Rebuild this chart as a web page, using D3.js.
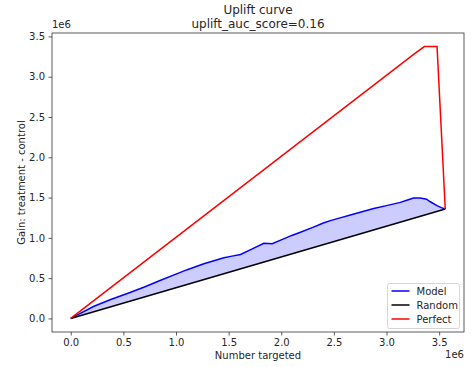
<!DOCTYPE html>
<html>
<head>
<meta charset="utf-8">
<script src="https://cdn.jsdelivr.net/npm/d3@7"></script>
<style>
  body { margin: 0; background: #fff; }
  text { font-family: "DejaVu Sans", sans-serif; fill: #262626; }
</style>
</head>
<body>
<script>
var width = 474, height = 367;

// data, values in units of 1e6
var modelX = [0, 0.221, 0.38, 0.538, 0.70, 0.854, 1.00, 1.107, 1.265, 1.455, 1.52, 1.613, 1.72, 1.834, 1.914, 2.00, 2.10, 2.182, 2.30, 2.40, 2.467, 2.55, 2.657, 2.75, 2.878, 3.00, 3.131, 3.20, 3.257, 3.321, 3.38, 3.416, 3.479, 3.52, 3.558];
var modelY = [0, 0.151, 0.235, 0.309, 0.390, 0.473, 0.550, 0.605, 0.679, 0.753, 0.770, 0.794, 0.860, 0.933, 0.926, 0.975, 1.030, 1.069, 1.130, 1.185, 1.214, 1.245, 1.284, 1.318, 1.365, 1.400, 1.440, 1.470, 1.494, 1.494, 1.480, 1.448, 1.399, 1.375, 1.358];
var randomX = [0, 3.558];
var randomY = [0, 1.358];
var perfectX = [0, 3.27, 3.36, 3.48, 3.558];
var perfectY = [0, 3.29, 3.374, 3.374, 1.358];
var xTicks = [0, 0.5, 1.0, 1.5, 2.0, 2.5, 3.0, 3.5];
var yTicks = [0, 0.5, 1.0, 1.5, 2.0, 2.5, 3.0, 3.5];
var legendLabels = ["Model", "Random", "Perfect"];
var legendColors = ["#0000ff", "#000000", "#ff0000"];

var mL = 52, mR = 464, mT = 33, mB = 332;

var svg = d3.select("body").append("svg")
  .attr("width", width).attr("height", height);

var x = d3.scaleLinear().domain([-0.178, 3.736]).range([mL, mR]);
var y = d3.scaleLinear().domain([-0.1687, 3.5427]).range([mB, mT]);

function zip(xs, ys) { return xs.map(function(v, i) { return [v, ys[i]]; }); }

var model = zip(modelX, modelY);
var randomAt = function(v) { return randomY[1] * v / randomX[1]; };

// fill between model and random
var area = d3.area()
  .x(function(d) { return x(d[0]); })
  .y0(function(d) { return y(randomAt(d[0])); })
  .y1(function(d) { return y(d[1]); });
svg.append("path").datum(model)
  .attr("d", area)
  .attr("fill", "#0000ff").attr("fill-opacity", 0.2);

var line = d3.line().x(function(d) { return x(d[0]); }).y(function(d) { return y(d[1]); });

svg.append("path").datum(model).attr("d", line)
  .attr("fill", "none").attr("stroke", "#0000ff").attr("stroke-width", 1.5);
svg.append("path").datum(zip(randomX, randomY)).attr("d", line)
  .attr("fill", "none").attr("stroke", "#000").attr("stroke-width", 1.5);
svg.append("path").datum(zip(perfectX, perfectY)).attr("d", line)
  .attr("fill", "none").attr("stroke", "#ff0000").attr("stroke-width", 1.5);

// axes
var xAxis = svg.append("g").attr("transform", "translate(0," + mB + ")")
  .call(d3.axisBottom(x).tickValues(xTicks).tickFormat(d3.format(".1f")).tickSize(3.5).tickPadding(3.5));
var yAxis = svg.append("g").attr("transform", "translate(" + mL + ",0)")
  .call(d3.axisLeft(y).tickValues(yTicks).tickFormat(d3.format(".1f")).tickSize(3.5).tickPadding(3.5));
[xAxis, yAxis].forEach(function(g) {
  g.select(".domain").remove();
  g.selectAll("line").attr("stroke", "#333").attr("stroke-width", 0.8);
  g.selectAll("text").attr("font-size", 10).attr("font-family", "DejaVu Sans").attr("fill", "#262626");
});

svg.append("rect")
  .attr("x", mL).attr("y", mT)
  .attr("width", mR - mL).attr("height", mB - mT)
  .attr("fill", "none").attr("stroke", "#333").attr("stroke-width", 0.8);

// offset labels
svg.append("text").attr("x", mL).attr("y", 28).attr("font-size", 10).text("1e6");
svg.append("text").attr("x", mR).attr("y", 358).attr("font-size", 10)
  .attr("text-anchor", "end").text("1e6");

// titles
svg.append("text").attr("x", (mL + mR) / 2).attr("y", 14)
  .attr("text-anchor", "middle").attr("font-size", 12).text("Uplift curve");
svg.append("text").attr("x", (mL + mR) / 2).attr("y", 28)
  .attr("text-anchor", "middle").attr("font-size", 12).text("uplift_auc_score=0.16");

svg.append("text").attr("x", (mL + mR) / 2).attr("y", 359)
  .attr("text-anchor", "middle").attr("font-size", 10).text("Number targeted");
svg.append("text")
  .attr("transform", "translate(25," + (mT + mB) / 2 + ") rotate(-90)")
  .attr("text-anchor", "middle").attr("font-size", 10).text("Gain: treatment - control");

// legend
var lg = svg.append("g").attr("transform", "translate(387.5,283.5)");
lg.append("rect").attr("width", 72).attr("height", 45).attr("rx", 2)
  .attr("fill", "#fff").attr("fill-opacity", 0.8).attr("stroke", "#ccc").attr("stroke-width", 0.8);
legendLabels.forEach(function(lab, i) {
  var yy = 7.5 + i * 14;
  lg.append("line").attr("x1", 4).attr("x2", 22).attr("y1", yy).attr("y2", yy)
    .attr("stroke", legendColors[i]).attr("stroke-width", 1.5);
  lg.append("text").attr("x", 29).attr("y", yy + 3.5).attr("font-size", 10).text(lab);
});
</script>
</body>
</html>
